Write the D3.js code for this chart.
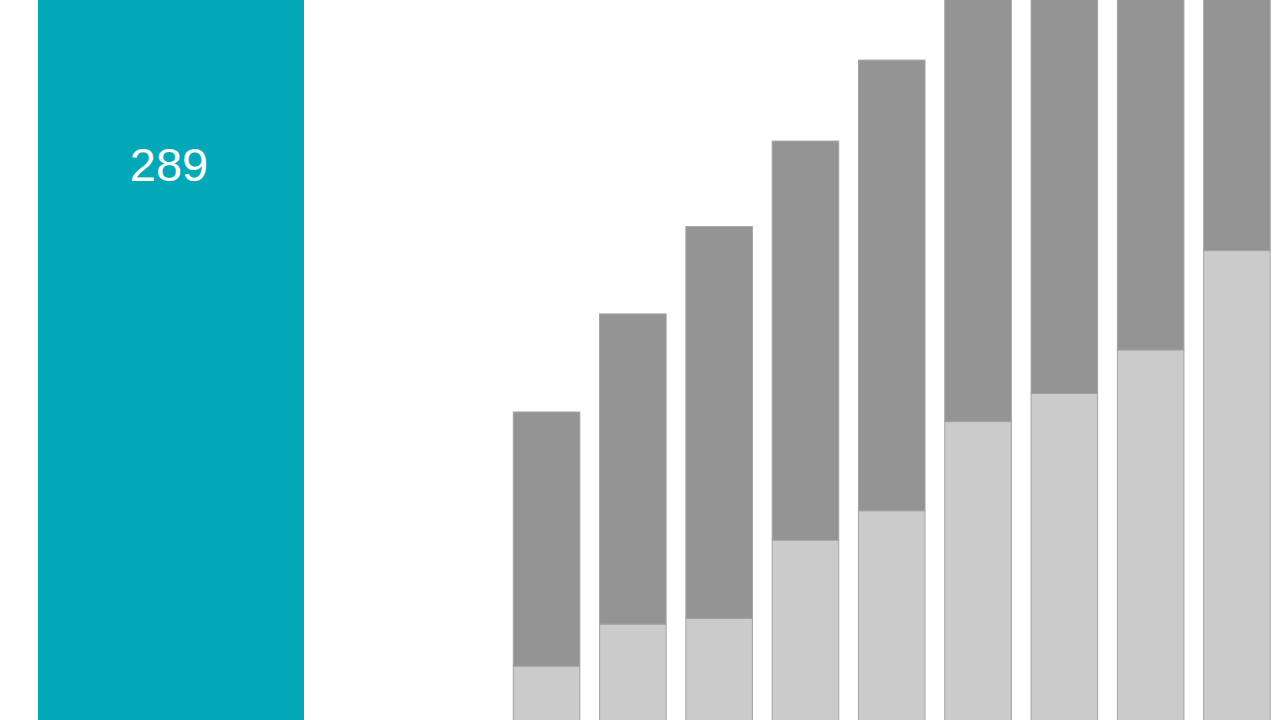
<!DOCTYPE html>
<html>
<head>
<meta charset="utf-8">
<script src="https://cdn.jsdelivr.net/npm/d3@7"></script>
<style>
  html, body { margin: 0; padding: 0; background: #ffffff; overflow: hidden; }
  svg { display: block; }
</style>
</head>
<body>
<div id="chart"></div>
<script>
// Data (units are arbitrary)
const total_label = "289";
const total_value = 289;
const categories = ["1", "2", "3", "4", "5", "6", "7", "8", "9"];
const light_values = [31.3, 45.3, 47.2, 73.3, 83.1, 112.8, 122.2, 136.7, 169.8];
const dark_values = [84.7, 103.4, 130.6, 133.0, 150.2, 146.2, 161.8, 169.3, 158.2];

const chart_width = 1280;
const chart_height = 720;

const rows = categories.map((c, i) => ({cat: c, light: light_values[i], dark: dark_values[i]}));
const series = d3.stack().keys(["light", "dark"])(rows);

const colors = {light: "#cbcbcb", dark: "#949494"};

// Scales
const y = d3.scaleLinear()
    .domain([0, 300])
    .range([760, -140]);

const x = d3.scaleBand()
    .domain(categories)
    .range([513.3, 1270.2])
    .paddingInner(0.229)
    .paddingOuter(0);

const x_total = d3.scaleBand()
    .domain(["total"])
    .range([38, 304]);

const svg = d3.create("svg")
    .attr("viewBox", [0, 0, chart_width, chart_height])
    .attr("width", chart_width)
    .attr("height", chart_height)
    .attr("style", "font-family: 'Liberation Sans', Arial, sans-serif;");

// Big teal bar
svg.append("rect")
    .attr("x", x_total("total"))
    .attr("width", x_total.bandwidth())
    .attr("y", y(total_value))
    .attr("height", y(0) - y(total_value))
    .attr("fill", "#03a8b8");

svg.append("text")
    .attr("x", x_total("total") + x_total.bandwidth() / 2 - 2)
    .attr("y", y(total_value) + 288)
    .attr("text-anchor", "middle")
    .attr("fill", "#ffffff")
    .attr("font-size", 47)
    .text(total_label);

// Stacked grey bars
svg.append("g")
    .selectAll("g")
    .data(series)
    .join("g")
    .attr("fill", d => colors[d.key])
    .selectAll("rect")
    .data(d => d)
    .join("rect")
    .attr("x", d => x(d.data.cat))
    .attr("width", x.bandwidth())
    .attr("y", d => y(d[1]))
    .attr("height", d => y(d[0]) - y(d[1]))
    .attr("stroke", "#a2a2a2")
    .attr("stroke-width", 1);

document.getElementById("chart").append(svg.node());
</script>
</body>
</html>
